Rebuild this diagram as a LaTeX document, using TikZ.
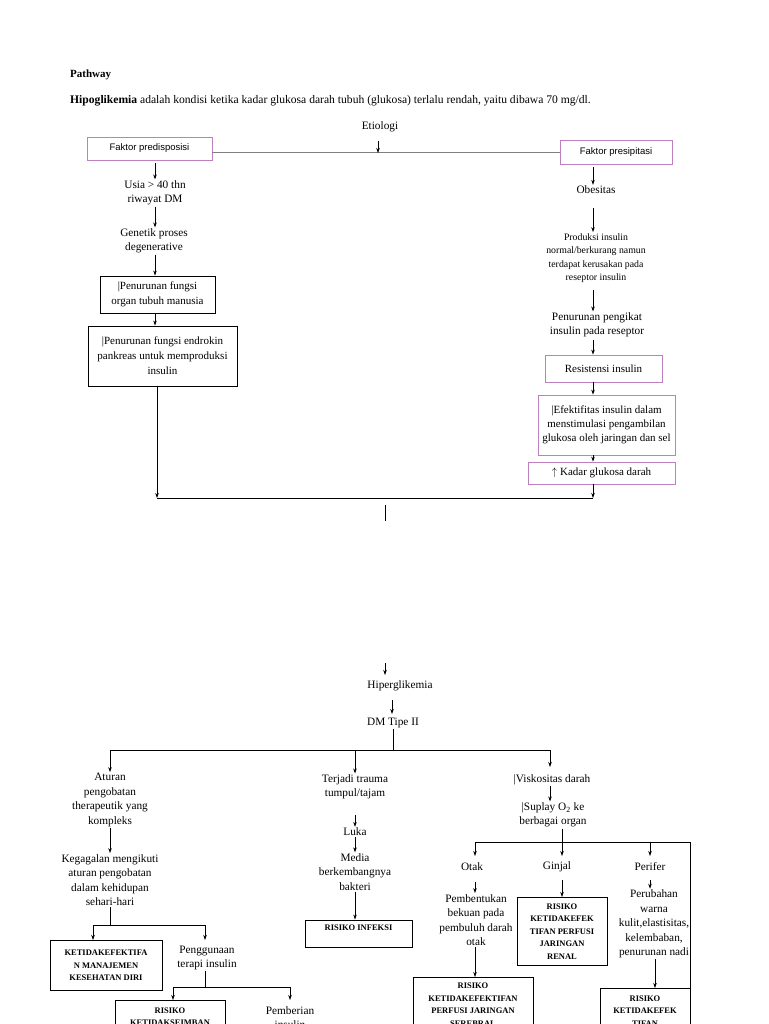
\documentclass[tikz,border=0pt]{standalone}
\usepackage{fontspec}
\setmainfont{Liberation Serif}
\newfontfamily\sans{Liberation Sans}
\usetikzlibrary{arrows.meta}
\begin{document}
\begin{tikzpicture}[x=1pt,y=-1pt,
  t/.style={font=\fontsize{11.3}{14.5}\selectfont,align=center,inner sep=1pt},
  sm/.style={font=\fontsize{9.8}{13.5}\selectfont,align=center,inner sep=1pt},
  vbox/.style={draw=violet!50,line width=0.8pt,font=\sans\fontsize{9.5}{12}\selectfont,align=center,inner sep=0pt},
  vbox2/.style={draw=violet!50,line width=0.8pt,font=\fontsize{11}{14}\selectfont,align=center,inner sep=0pt},
  bbox/.style={draw,line width=0.9pt,font=\fontsize{11}{15}\selectfont,align=center,inner sep=0pt},
  rbox/.style={draw,line width=0.9pt,font=\bfseries\fontsize{8.5}{12.5}\selectfont,align=center,inner sep=0pt,anchor=north},
  ar/.style={-{Stealth[length=5pt,width=3.5pt]},line width=0.6pt},
  ln/.style={line width=0.6pt}]
\useasboundingbox (0,0) rectangle (768,1024);
\clip (0,0) rectangle (768,1024);
% header
\node[anchor=west,font=\bfseries\fontsize{11}{12}\selectfont,inner sep=0] (title) at (70,75) {Pathway};
\node[anchor=west,font=\fontsize{11.6}{12}\selectfont,inner sep=0] (intro) at (70,101) {\textbf{Hipoglikemia} adalah kondisi ketika kadar glukosa darah tubuh (glukosa) terlalu rendah, yaitu dibawa 70 mg/dl.};
\node[t] (etio) at (380,127) {Etiologi};
\node[vbox,minimum width=125,minimum height=23] (fp) at (149.5,148.5) {Faktor predisposisi};
\node[vbox,minimum width=112,minimum height=24] (fs) at (616,152) {Faktor presipitasi};
\draw[ln,gray] (fp.east|-0,152) -- (fs.west|-0,152);
\coordinate (e1) at (378,141); \coordinate (e2) at (378,153);
\draw[ar] (e1) -- (e2);
% left column
\node[t] (usia) at (155,193) {Usia > 40 thn\\riwayat DM};
\node[t] (gen) at (154,241) {Genetik proses\\degenerative};
\node[bbox,minimum width=115,minimum height=37] (pf) at (157.5,294.5) {\textbar Penurunan fungsi\\organ tubuh manusia};
\node[bbox,minimum width=149,minimum height=60] (pe) at (162.5,356) {\textbar Penurunan fungsi endrokin\\pankreas untuk memproduksi\\insulin};
\draw[ar] (155,163) -- (usia.north-|155,0);
\draw[ar] (usia.south-|155,0) -- (gen.north-|155,0);
\draw[ar] (gen.south-|155,0) -- (pf.north-|155,0);
\draw[ar] (pf.south-|155,0) -- (pe.north-|155,0);
% right column
\node[t] (obes) at (596,190) {Obesitas};
\node[sm] (prod) at (596,258) {Produksi insulin\\normal/berkurang namun\\terdapat kerusakan pada\\reseptor insulin};
\node[t] (peng) at (597,325) {Penurunan pengikat\\insulin pada reseptor};
\node[vbox2,minimum width=117,minimum height=27] (res) at (603.5,368.5) {Resistensi insulin};
\node[vbox2,minimum width=137,minimum height=60] (efek) at (606.5,425) {\textbar Efektifitas insulin dalam\\menstimulasi pengambilan\\glukosa oleh jaringan dan sel};
\node[vbox2,minimum width=147,minimum height=22] (kadar) at (601.5,473) {$\uparrow$ Kadar glukosa darah};
\draw[ar] (fs.south-|593,0) ++(0,3) -- (obes.north-|593,0);
\draw[ar] (593,208) -- (prod.north-|593,0);
\draw[ar] (593,290) -- (peng.north-|593,0);
\draw[ar] (593,340) -- (res.north-|593,0);
\draw[ar] (res.south-|593,0) -- (efek.north-|593,0);
\draw[ar] (efek.south-|593,0) -- (kadar.north-|593,0);
% merge
\coordinate (ml) at (157,498); \coordinate (mr) at (593,498);
\draw[ar] (pe.south-|157,0) -- (ml);
\draw[ar] (kadar.south-|593,0) -- (mr);
\draw[ln] (ml) -- (mr);
\coordinate (m1) at (385,505); \coordinate (m2) at (385,521);
\draw[ln] (m1) -- (m2);
% lower part
\node[t] (hip) at (400,686) {Hiperglikemia};
\node[t] (dm) at (393,723) {DM Tipe II};
\coordinate (h0) at (385,663);
\draw[ar] (h0) -- (385,675);
\draw[ar] (392,700) -- (392,714);
\coordinate (b0) at (110,750); \coordinate (b2) at (550,750);
\draw[ln] (dm.south-|393,0) -- (393,750);
\draw[ln] (b0) -- (b2);
\node[t] (atur) at (110,800) {Aturan\\pengobatan\\therapeutik yang\\kompleks};
\node[t] (trau) at (355,787) {Terjadi trauma\\tumpul/tajam};
\node[t] (visk) at (552,780) {\textbar Viskositas darah};
\draw[ar] (b0) -- (atur.north-|b0);
\draw[ar] (355,750) -- (trau.north-|355,0);
\draw[ar] (b2) -- (550,767);
% left branch
\node[t] (gagal) at (110,880) {Kegagalan mengikuti\\aturan pengobatan\\dalam kehidupan\\sehari-hari};
\draw[ar] (atur.south-|110,0) -- (gagal.north-|110,0);
\draw[ln] (gagal.south-|110,0) -- (110,925);
\draw[ln] (93,925) -- (205,925);
\node[rbox,minimum width=112,minimum height=50] (ktm) at (106,940) {KETIDAKEFEKTIFA\\N MANAJEMEN\\KESEHATAN DIRI};
\node[t] (pti) at (207,958) {Penggunaan\\terapi insulin};
\draw[ar] (93,925) -- (ktm.north-|93,0);
\draw[ar] (205,925) -- (205,940);
\draw[ln] (pti.south-|205,0) -- (205,987);
\draw[ln] (173,987) -- (290,987);
\node[rbox,minimum width=110,minimum height=45] (rk) at (170,1000) {RISIKO\\KETIDAKSEIMBAN\\GAN};
\node[t,anchor=north] (pem) at (290,1005) {Pemberian\\insulin};
\draw[ar] (173,987) -- (rk.north-|173,0);
\draw[ar] (290,987) -- (290,1000);
% middle branch
\node[t] (luka) at (355,832) {Luka};
\node[t] (media) at (355,872) {Media\\berkembangnya\\bakteri};
\node[draw,line width=0.9pt,font=\bfseries\fontsize{8.5}{12.5}\selectfont,minimum width=107,minimum height=27,inner sep=0pt] (ri) at (358.5,933.5) {};
\node[font=\bfseries\fontsize{8.5}{12.5}\selectfont,inner sep=0pt] (rit) at (358.5,928) {RISIKO INFEKSI};
\draw[ar] (luka.north-|355,0) ++(0,-12) -- (luka.north-|355,0);
\draw[ar] (luka.south-|355,0) -- (media.north-|355,0);
\draw[ar] (media.south-|355,0) -- (ri.north-|355,0);
% right branch
\node[t] (supl) at (553,815) {\textbar Suplay O\textsubscript{2} ke\\berbagai organ};
\draw[ar] (visk.south-|550,0) -- (supl.north-|550,0);
\coordinate (c0) at (475,842); \coordinate (c3) at (690,842);
\draw[ln] (supl.south-|562,0) -- (562,842);
\draw[ln] (c0) -- (c3) -- (690,1024);
\node[t] (otak) at (472,867) {Otak};
\node[t] (ginj) at (557,867) {Ginjal};
\node[t] (perif) at (650,867) {Perifer};
\draw[ar] (c0) -- (475,856);
\draw[ar] (562,842) -- (562,856);
\draw[ar] (650,842) -- (650,856);
\node[t] (bek) at (476,920) {Pembentukan\\bekuan pada\\pembuluh darah\\otak};
\node[rbox,minimum width=120,minimum height=55] (rs) at (473,977) {RISIKO\\KETIDAKEFEKTIFAN\\PERFUSI JARINGAN\\SEREBRAL};
\node[rbox,minimum width=90,minimum height=68] (rr) at (562,897) {RISIKO\\KETIDAKEFEK\\TIFAN PERFUSI\\JARINGAN\\RENAL};
\node[t] (peru) at (654,924) {Perubahan\\warna\\kulit,elastisitas,\\kelembaban,\\penurunan nadi};
\node[rbox,minimum width=90,minimum height=45] (rp) at (645,988) {RISIKO\\KETIDAKEFEK\\TIFAN};
\draw[ar] (475,882) -- (bek.north-|475,0);
\draw[ar] (bek.south-|475,0) -- (rs.north-|475,0);
\draw[ar] (562,880) -- (rr.north-|562,0);
\draw[ar] (650,880) -- (peru.north-|650,0);
\draw[ar] (peru.south-|655,0) -- (rp.north-|655,0);
\end{tikzpicture}
\end{document}
